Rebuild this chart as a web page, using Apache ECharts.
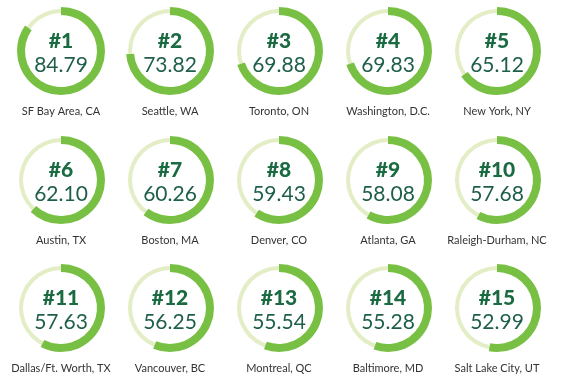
<!DOCTYPE html>
<html><head><meta charset="utf-8">
<script src="https://cdn.jsdelivr.net/npm/echarts@6/dist/echarts.min.js"></script>
<style>html,body{margin:0;padding:0;background:#fff}#c{width:570px;height:380px}</style>
</head><body><div id="c"></div>
<script>
const ranks = ['#1','#2','#3','#4','#5','#6','#7','#8','#9','#10','#11','#12','#13','#14','#15'];
const values = [84.79,73.82,69.88,69.83,65.12,62.10,60.26,59.43,58.08,57.68,57.63,56.25,55.54,55.28,52.99];
const cities = ['SF Bay Area, CA','Seattle, WA','Toronto, ON','Washington, D.C.','New York, NY',
  'Austin, TX','Boston, MA','Denver, CO','Atlanta, GA','Raleigh-Durham, NC',
  'Dallas/Ft. Worth, TX','Vancouver, BC','Montreal, QC','Baltimore, MD','Salt Lake City, UT'];

const colX = [61, 170, 279, 388, 497];
const rowY = [51, 180, 308];
const font = 'Lato, "Open Sans", sans-serif';
const series = [];
values.forEach((v, i) => {
  const cx = colX[i % 5], cy = rowY[Math.floor(i / 5)];
  // background ring
  series.push({
    type: 'gauge', center: [cx, cy], radius: 42, startAngle: 90, endAngle: -270,
    min: 0, max: 100, silent: true,
    axisLine: { lineStyle: { width: 4, color: [[1, '#e3edc6']] } },
    pointer: { show: false }, axisTick: { show: false }, splitLine: { show: false },
    axisLabel: { show: false }, title: { show: false }, detail: { show: false },
    data: [{ value: 0 }]
  });
  series.push({
    type: 'gauge', center: [cx, cy], radius: 44, startAngle: 90, endAngle: -270,
    min: 0, max: 100, silent: true,
    axisLine: { lineStyle: { width: 8, color: [[1, 'rgba(0,0,0,0)']] } },
    progress: { show: true, width: 8, itemStyle: { color: '#78c043' } },
    pointer: { show: false }, axisTick: { show: false }, splitLine: { show: false },
    axisLabel: { show: false },
    title: { show: true, offsetCenter: [0, 60], fontSize: 11, color: '#333', fontFamily: font },
    detail: {
      show: true, offsetCenter: [0, 2], fontFamily: font, fontWeight: 'normal',
      formatter: () => '{r|' + ranks[i] + '}\n{v|' + v.toFixed(2) + '}',
      rich: {
        r: { fontSize: 21, fontWeight: 900, color: '#1a6a42', fontFamily: font, lineHeight: 24 },
        v: { fontSize: 21, fontWeight: 'normal', color: '#1f5f4a', fontFamily: font, lineHeight: 24 }
      }
    },
    data: [{ value: v, name: cities[i] }]
  });
});
const chart = echarts.init(document.getElementById('c'));
chart.setOption({ animation: false, series });
</script></body></html>
